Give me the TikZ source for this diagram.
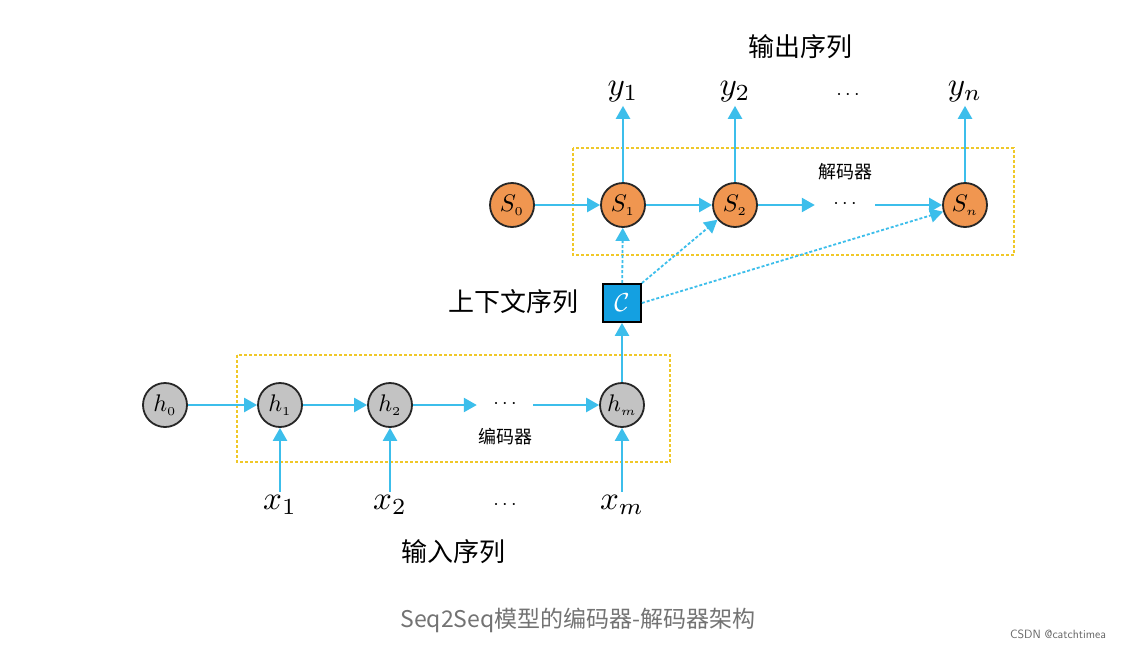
\documentclass[tikz,border=0pt]{standalone}
\usepackage{graphicx}
\usepackage{fontspec}
\newfontfamily\cjk{Noto Sans CJK SC}
\usetikzlibrary{arrows.meta}
\definecolor{cy}{RGB}{60,190,235}
\definecolor{og}{RGB}{240,150,80}
\definecolor{gy}{RGB}{195,195,195}
\definecolor{yl}{RGB}{240,200,40}
\definecolor{cb}{RGB}{20,160,225}
\newcommand{\hm}[1]{\scalebox{2.4}{$#1$}}
\newcommand{\lm}[1]{\scalebox{3.3}{$#1$}}
\newcommand{\dd}{\scalebox{2}{$\cdots$}}
\begin{document}
\begin{tikzpicture}[x=1pt,y=-1pt,
 hnode/.style={circle,draw=black!85,line width=1.8pt,fill=gy,minimum size=44pt,inner sep=0pt},
 snode/.style={hnode,fill=og},
 arr/.style={cy,line width=2.4pt,-{Triangle[length=13pt,width=14pt]}},
 darr/.style={arr,densely dashed,line width=1.8pt},
 box/.style={draw=yl,densely dashed,line width=1.3pt},
 zh/.style={font=\cjk\fontsize{26}{26}\selectfont}]
\useasboundingbox (0,0) rectangle (1131,648);
\fill[white] (0,0) rectangle (1131,648);
\draw[box] (237,355) rectangle (670,462);
\draw[box] (573,148) rectangle (1014,255);
\node[hnode] (h0) at (165,405) {\hm{h_{\scriptscriptstyle 0}}};
\node[hnode] (h1) at (280,405) {\hm{h_{\scriptscriptstyle 1}}};
\node[hnode] (h2) at (390,405) {\hm{h_{\scriptscriptstyle 2}}};
\node[minimum width=56pt,minimum height=10pt,inner sep=0pt] (hd) at (505,405) {\raisebox{2pt}{\dd}};
\node[hnode] (hm) at (622,405) {\hm{h_{\scriptscriptstyle m}}};
\node (x1) at (280,505) {\lm{x_{1}}};
\node (x2) at (390,505) {\lm{x_{2}}};
\node (xd) at (505,505) {\dd};
\node (xm) at (622,505) {\lm{x_{m}}};
\node[zh] (in) at (453,552) {输入序列};
\node[font=\cjk\fontsize{18}{18}\selectfont] (enc) at (505,437) {编码器};
\node[draw=black,line width=1.8pt,fill=cb,minimum size=38pt,inner sep=0pt,text=white] (c) at (622,303) {\scalebox{2.6}{$\mathcal{C}$}};
\node[zh] (ctx) at (513,302) {上下文序列};
\node[snode] (s0) at (512,205) {\hm{S_{\scriptscriptstyle 0}}};
\node[snode] (s1) at (623,205) {\hm{S_{\scriptscriptstyle 1}}};
\node[snode] (s2) at (735,205) {\hm{S_{\scriptscriptstyle 2}}};
\node[minimum width=60pt,minimum height=10pt,inner sep=0pt] (sd) at (845,205) {\raisebox{2pt}{\dd}};
\node[snode] (sn) at (965,205) {\hm{S_{\scriptscriptstyle n}}};
\node[font=\cjk\fontsize{18}{18}\selectfont] (dec) at (845,172) {解码器};
\node (y1) at (623,92) {\lm{y_{1}}};
\node (y2) at (735,92) {\lm{y_{2}}};
\node (yd) at (848,95) {\dd};
\node (yn) at (965,92) {\lm{y_{n}}};
\node[zh] (out) at (800,47) {输出序列};
\node[font=\cjk\fontsize{23}{23}\selectfont,text=black!55] (cap) at (578,620) {Seq2Seq模型的编码器-解码器架构};
\node[font=\fontsize{12}{12}\selectfont\sffamily,text=black!60] (wm) at (1058,634) {CSDN @catchtimea};
\draw[arr] (h0) -- (h1);
\draw[arr] (h1) -- (h2);
\draw[arr] (h2) -- (hd.west);
\draw[arr] (hd.east) -- (hm);
\draw[arr] (x1) -- (h1);
\draw[arr] (x2) -- (h2);
\draw[arr] (xm) -- (hm);
\draw[arr] (hm) -- (c);
\draw[arr] (s0) -- (s1);
\draw[arr] (s1) -- (s2);
\draw[arr] (s2) -- (sd.west);
\draw[arr] (sd.east) -- (sn);
\draw[arr] (s1) -- (y1);
\draw[arr] (s2) -- (y2);
\draw[arr] (sn) -- (yn);
\draw[darr] (c) -- (s1);
\draw[darr] (c.north east) -- (s2);
\draw[darr] (c.east) -- (sn);
\end{tikzpicture}
\end{document}
